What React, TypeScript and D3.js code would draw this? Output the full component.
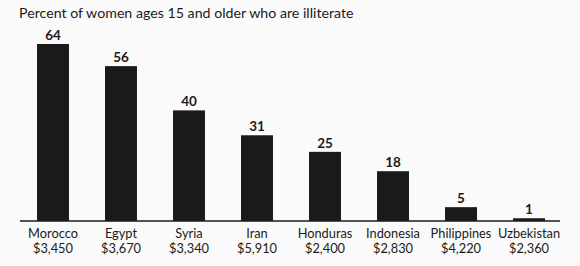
import React from "react";
import * as d3 from "d3";

const countries = ["Morocco", "Egypt", "Syria", "Iran", "Honduras", "Indonesia", "Philippines", "Uzbekistan"];
const illiteracy = [64, 56, 40, 31, 25, 18, 5, 1];
const income = ["$3,450", "$3,670", "$3,340", "$5,910", "$2,400", "$2,830", "$4,220", "$2,360"];
const title = "Percent of women ages 15 and older who are illiterate";

const W = 580;
const H = 266;
const FONT = "Lato, 'Noto Sans', sans-serif";

export default function App() {
  const x = d3.scaleBand<string>().domain(countries).range([20, 562]).paddingInner(0.53).paddingOuter(0.25);
  const y = d3.scaleLinear().domain([0, 64]).range([221, 44]);
  return (
    <svg width={W} height={H} style={{ position: "absolute", left: 0, top: 0, background: "#fafafa" }}>
      <rect x={0} y={0} width={W} height={H} fill="#fafafa" />
      <text x={19} y={18} fontFamily={FONT} fontSize={14.2} fill="#1a1a1a">{title}</text>
      {countries.map((c, i) => {
        const bx = x(c)!;
        const cx = bx + x.bandwidth() / 2;
        return (
          <g key={c}>
            <rect x={bx} y={y(illiteracy[i])} width={x.bandwidth()} height={y(0) - y(illiteracy[i])} fill="#1a1a1a" />
            <text x={cx} y={y(illiteracy[i]) - 4} textAnchor="middle" fontFamily={FONT} fontWeight={700} fontSize={13.5} fill="#1a1a1a">{illiteracy[i]}</text>
            <text x={cx} y={238} textAnchor="middle" fontFamily={FONT} fontSize={12.8} fill="#1a1a1a">{c}</text>
            <text x={cx} y={253} textAnchor="middle" fontFamily={FONT} fontSize={12.8} fill="#1a1a1a">{income[i]}</text>
          </g>
        );
      })}
      <line x1={20} x2={560} y1={y(0)} y2={y(0)} stroke="#1a1a1a" strokeWidth={1.5} />
    </svg>
  );
}
